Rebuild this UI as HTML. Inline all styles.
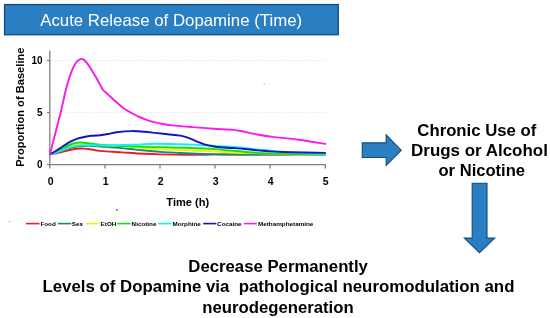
<!DOCTYPE html>
<html><head><meta charset="utf-8"><style>
html,body{margin:0;padding:0;background:#fff;}
body{width:550px;height:318px;overflow:hidden;position:relative;}
svg{position:absolute;left:0;top:0;}
text{font-family:"Liberation Sans",Arial,sans-serif;}
.b{font-weight:bold;font-size:15.6px;fill:#000;}
.ax{font-weight:bold;font-size:10.5px;fill:#000;}
.lg{font-weight:bold;font-size:6.1px;fill:#000;}
</style></head><body>
<svg width="550" height="318" viewBox="0 0 550 318">
<rect x="4.55" y="4.55" width="333.7" height="30.2" fill="#297FC1" stroke="#124A7E" stroke-width="1.3"/>
<text x="40.2" y="26" fill="#fff" font-size="16.5" textLength="262" lengthAdjust="spacingAndGlyphs">Acute Release of Dopamine (Time)</text>
<!-- gridlines -->
<line x1="51" y1="60.5" x2="326" y2="60.5" stroke="#e0e0e0" stroke-width="1" stroke-dasharray="1.2,1.8"/>
<line x1="51" y1="112.6" x2="326" y2="112.6" stroke="#e0e0e0" stroke-width="1" stroke-dasharray="1.2,1.8"/>
<!-- axes -->
<g stroke="#808080" stroke-width="1.3" fill="none">
<line x1="49.8" y1="50.5" x2="49.8" y2="168.5"/>
<line x1="46.9" y1="164.6" x2="326" y2="164.6"/>
<line x1="46.9" y1="60.5" x2="49.8" y2="60.5"/>
<line x1="46.9" y1="112.6" x2="49.8" y2="112.6"/>
<line x1="105" y1="164.6" x2="105" y2="168.5"/>
<line x1="160" y1="164.6" x2="160" y2="168.5"/>
<line x1="215" y1="164.6" x2="215" y2="168.5"/>
<line x1="270" y1="164.6" x2="270" y2="168.5"/>
<line x1="325.3" y1="164.6" x2="325.3" y2="168.5"/>
</g>
<g fill="none" stroke-width="1.95" stroke-linejoin="round" stroke-linecap="round">
<path d="M50.00,154.20 C50.83,154.08 52.95,153.90 55.00,153.50 C57.05,153.10 59.88,152.38 62.30,151.80 C64.72,151.22 67.08,150.50 69.50,150.00 C71.92,149.50 74.37,149.03 76.80,148.80 C79.23,148.57 81.90,148.52 84.10,148.60 C86.30,148.68 87.35,148.92 90.00,149.30 C92.65,149.68 94.67,150.38 100.00,150.90 C105.33,151.42 114.67,151.92 122.00,152.40 C129.33,152.88 137.67,153.47 144.00,153.80 C150.33,154.13 153.17,154.25 160.00,154.40 C166.83,154.55 177.50,154.65 185.00,154.70 C192.50,154.75 200.00,154.75 205.00,154.70 C210.00,154.65 209.17,154.42 215.00,154.40 C220.83,154.38 230.83,154.58 240.00,154.60 C249.17,154.62 260.00,154.53 270.00,154.50 C280.00,154.47 290.83,154.42 300.00,154.40 C309.17,154.38 320.83,154.40 325.00,154.40" stroke="#EE1C24" />
<path d="M50.00,154.20 C52.00,153.53 57.53,151.47 62.00,150.20 C66.47,148.93 72.13,147.33 76.80,146.60 C81.47,145.87 86.13,145.82 90.00,145.80 C93.87,145.78 94.67,146.12 100.00,146.50 C105.33,146.88 115.58,147.53 122.00,148.10 C128.42,148.67 132.17,149.27 138.50,149.90 C144.83,150.53 152.25,151.35 160.00,151.90 C167.75,152.45 175.83,152.78 185.00,153.20 C194.17,153.62 205.83,154.17 215.00,154.40 C224.17,154.63 230.83,154.58 240.00,154.60 C249.17,154.62 260.00,154.53 270.00,154.50 C280.00,154.47 290.83,154.42 300.00,154.40 C309.17,154.38 320.83,154.40 325.00,154.40" stroke="#0E8A8A" />
<path d="M50.00,154.20 C52.00,153.45 57.53,151.28 62.00,149.70 C66.47,148.12 72.13,145.57 76.80,144.70 C81.47,143.83 85.30,144.40 90.00,144.50 C94.70,144.60 98.33,144.93 105.00,145.30 C111.67,145.67 121.67,146.07 130.00,146.70 C138.33,147.33 145.83,148.53 155.00,149.10 C164.17,149.67 175.00,149.70 185.00,150.10 C195.00,150.50 205.83,151.07 215.00,151.50 C224.17,151.93 230.83,152.35 240.00,152.70 C249.17,153.05 260.00,153.33 270.00,153.60 C280.00,153.87 290.83,154.17 300.00,154.30 C309.17,154.43 320.83,154.38 325.00,154.40" stroke="#F2F200" />
<path d="M50.00,154.20 C50.83,153.80 52.95,152.67 55.00,151.80 C57.05,150.93 59.88,150.13 62.30,149.00 C64.72,147.87 67.08,146.03 69.50,145.00 C71.92,143.97 74.97,143.22 76.80,142.80 C78.63,142.38 78.68,142.45 80.50,142.50 C82.32,142.55 85.28,142.83 87.70,143.10 C90.12,143.37 91.62,143.72 95.00,144.10 C98.38,144.48 102.17,145.02 108.00,145.40 C113.83,145.78 122.17,146.12 130.00,146.40 C137.83,146.68 145.83,146.87 155.00,147.10 C164.17,147.33 175.00,147.47 185.00,147.80 C195.00,148.13 204.55,148.37 215.00,149.10 C225.45,149.83 238.53,151.48 247.70,152.20 C256.87,152.92 261.28,153.07 270.00,153.40 C278.72,153.73 290.83,154.03 300.00,154.20 C309.17,154.37 320.83,154.37 325.00,154.40" stroke="#10E010" />
<path d="M50.00,154.20 C50.83,153.97 52.95,153.45 55.00,152.80 C57.05,152.15 59.88,151.20 62.30,150.30 C64.72,149.40 67.08,148.13 69.50,147.40 C71.92,146.67 74.37,146.27 76.80,145.90 C79.23,145.53 81.07,145.30 84.10,145.20 C87.13,145.10 92.35,145.27 95.00,145.30 C97.65,145.33 93.67,145.48 100.00,145.40 C106.33,145.32 123.83,145.08 133.00,144.80 C142.17,144.52 148.00,143.82 155.00,143.70 C162.00,143.58 168.72,143.95 175.00,144.10 C181.28,144.25 186.03,144.30 192.70,144.60 C199.37,144.90 207.62,145.45 215.00,145.90 C222.38,146.35 229.50,146.65 237.00,147.30 C244.50,147.95 251.17,148.93 260.00,149.80 C268.83,150.67 279.17,151.82 290.00,152.50 C300.83,153.18 319.17,153.67 325.00,153.90" stroke="#10F0F0" />
<path d="M50.00,154.20 C50.83,153.75 52.95,152.73 55.00,151.50 C57.05,150.27 59.88,148.37 62.30,146.80 C64.72,145.23 67.08,143.43 69.50,142.10 C71.92,140.77 74.37,139.65 76.80,138.80 C79.23,137.95 81.67,137.50 84.10,137.00 C86.53,136.50 88.75,136.10 91.40,135.80 C94.05,135.50 97.23,135.50 100.00,135.20 C102.77,134.90 105.25,134.48 108.00,134.00 C110.75,133.52 112.52,132.78 116.50,132.30 C120.48,131.82 127.32,131.18 131.90,131.10 C136.48,131.02 140.15,131.50 144.00,131.80 C147.85,132.10 151.07,132.48 155.00,132.90 C158.93,133.32 163.40,133.85 167.60,134.30 C171.80,134.75 176.85,135.05 180.20,135.60 C183.55,136.15 184.98,136.65 187.70,137.60 C190.42,138.55 193.57,140.13 196.50,141.30 C199.43,142.47 202.42,143.73 205.30,144.60 C208.18,145.47 210.28,145.97 213.80,146.50 C217.32,147.03 222.83,147.53 226.40,147.80 C229.97,148.07 231.65,147.85 235.20,148.10 C238.75,148.35 243.52,148.88 247.70,149.30 C251.88,149.72 256.58,150.25 260.30,150.60 C264.02,150.95 265.02,151.13 270.00,151.40 C274.98,151.67 281.03,151.95 290.20,152.20 C299.37,152.45 319.20,152.78 325.00,152.90" stroke="#1414C0" />
<path d="M50.00,154.20 C50.58,151.88 52.30,145.00 53.50,140.30 C54.70,135.60 55.98,130.72 57.20,126.00 C58.42,121.28 59.77,116.25 60.80,112.00 C61.83,107.75 62.58,104.07 63.40,100.50 C64.22,96.93 64.85,93.93 65.70,90.60 C66.55,87.27 67.57,83.57 68.50,80.50 C69.43,77.43 70.37,74.67 71.30,72.20 C72.23,69.73 73.15,67.50 74.10,65.70 C75.05,63.90 75.93,62.50 77.00,61.40 C78.07,60.30 79.45,59.45 80.50,59.10 C81.55,58.75 82.23,58.67 83.30,59.30 C84.37,59.93 85.75,61.50 86.90,62.90 C88.05,64.30 88.63,65.22 90.20,67.70 C91.77,70.18 94.58,74.85 96.30,77.80 C98.02,80.75 99.37,83.37 100.50,85.40 C101.63,87.43 101.87,88.50 103.10,90.00 C104.33,91.50 105.80,92.48 107.90,94.40 C110.00,96.32 113.08,99.18 115.70,101.50 C118.32,103.82 120.97,106.38 123.60,108.30 C126.23,110.22 128.88,111.55 131.50,113.00 C134.12,114.45 136.68,115.82 139.30,117.00 C141.92,118.18 144.58,119.20 147.20,120.10 C149.82,121.00 152.38,121.75 155.00,122.40 C157.62,123.05 159.97,123.50 162.90,124.00 C165.83,124.50 167.63,124.88 172.60,125.40 C177.57,125.92 185.87,126.55 192.70,127.10 C199.53,127.65 206.83,128.23 213.60,128.70 C220.37,129.17 228.57,129.47 233.30,129.90 C238.03,130.33 238.00,130.53 242.00,131.30 C246.00,132.07 252.20,133.57 257.30,134.50 C262.40,135.43 267.15,136.22 272.60,136.90 C278.05,137.58 284.98,138.03 290.00,138.60 C295.02,139.17 296.80,139.42 302.70,140.30 C308.60,141.18 321.62,143.30 325.40,143.90" stroke="#F81CF0" />
</g>
<!-- y tick labels -->
<text class="ax" x="42.6" y="63.8" style="font-size:10px" text-anchor="end">10</text>
<text class="ax" x="42.6" y="115.8" style="font-size:10px" text-anchor="end">5</text>
<text class="ax" x="42.6" y="167.8" style="font-size:10px" text-anchor="end">0</text>
<!-- x tick labels -->
<text class="ax" x="50.6" y="185.4" text-anchor="middle">0</text>
<text class="ax" x="105.6" y="185.4" text-anchor="middle">1</text>
<text class="ax" x="160.6" y="185.4" text-anchor="middle">2</text>
<text class="ax" x="215.6" y="185.4" text-anchor="middle">3</text>
<text class="ax" x="270.6" y="185.4" text-anchor="middle">4</text>
<text class="ax" x="325.6" y="185.4" text-anchor="middle">5</text>
<text class="ax" x="166.37" y="205.6" style="font-size:11px" textLength="42.79" lengthAdjust="spacingAndGlyphs">Time (h)</text>
<text class="ax" style="font-size:11.8px" textLength="119.3" lengthAdjust="spacingAndGlyphs" transform="translate(23.5,166.84) rotate(-90)">Proportion of Baseline</text>
<!-- legend -->
<line x1="25.9" y1="223.6" x2="39.5" y2="223.6" stroke="#EE1C24" stroke-width="1.6"/>
<text x="40.4" y="226.2" class="lg" textLength="15.41" lengthAdjust="spacingAndGlyphs">Food</text>
<line x1="57.8" y1="223.6" x2="71.4" y2="223.6" stroke="#0E8A8A" stroke-width="1.6"/>
<text x="71.8" y="226.2" class="lg" textLength="11.22" lengthAdjust="spacingAndGlyphs">Sex</text>
<line x1="86.2" y1="223.6" x2="99.3" y2="223.6" stroke="#F2F200" stroke-width="1.6"/>
<text x="100.6" y="226.2" class="lg" textLength="15.77" lengthAdjust="spacingAndGlyphs">EtOH</text>
<line x1="117.3" y1="223.6" x2="130.7" y2="223.6" stroke="#10E010" stroke-width="1.6"/>
<text x="131.6" y="226.2" class="lg" textLength="24.89" lengthAdjust="spacingAndGlyphs">Nicotine</text>
<line x1="158.2" y1="223.6" x2="171.6" y2="223.6" stroke="#10F0F0" stroke-width="1.6"/>
<text x="172.5" y="226.2" class="lg" textLength="28.38" lengthAdjust="spacingAndGlyphs">Morphine</text>
<line x1="203.2" y1="223.6" x2="216.3" y2="223.6" stroke="#1414C0" stroke-width="1.6"/>
<text x="217.1" y="226.2" class="lg" textLength="24.55" lengthAdjust="spacingAndGlyphs">Cocaine</text>
<line x1="243.8" y1="223.6" x2="256.9" y2="223.6" stroke="#F81CF0" stroke-width="1.6"/>
<text x="258.0" y="226.2" class="lg" textLength="55.37" lengthAdjust="spacingAndGlyphs">Methamphetamine</text>
<circle cx="9.6" cy="221.4" r="0.7" fill="#999"/>
<circle cx="264.2" cy="84.4" r="0.7" fill="#aaa"/>
<rect x="116.2" y="209.2" width="1.5" height="1.5" fill="#444"/>
<!-- arrows -->
<path d="M362.3,142.8 L386.2,142.8 L386.2,135 L401.2,150.2 L386.2,165.3 L386.2,157.5 L362.3,157.5 Z" fill="#297FC1" stroke="#134B80" stroke-width="1.15"/>
<path d="M472.2,183.2 L487,183.2 L487,238.1 L494.6,238.1 L479.5,252.6 L464.4,238.1 L472.2,238.1 Z" fill="#297FC1" stroke="#134B80" stroke-width="1.15"/>
<!-- right text -->
<text class="b" x="417.34" y="136.3" textLength="118.97" lengthAdjust="spacingAndGlyphs">Chronic Use of</text>
<text class="b" x="411.08" y="156.0" textLength="136.77" lengthAdjust="spacingAndGlyphs">Drugs or Alcohol</text>
<text class="b" x="438.49" y="176.1" textLength="86.58" lengthAdjust="spacingAndGlyphs">or Nicotine</text>
<!-- bottom text -->
<text class="b" x="188.3" y="271.8" textLength="179.61" lengthAdjust="spacingAndGlyphs">Decrease Permanently</text>
<text class="b" x="42.44" y="291.9" textLength="471.98" lengthAdjust="spacingAndGlyphs" xml:space="preserve">Levels of Dopamine via  pathological neuromodulation and</text>
<text class="b" x="202.25" y="312.7" textLength="151.42" lengthAdjust="spacingAndGlyphs">neurodegeneration</text>
</svg>
</body></html>
